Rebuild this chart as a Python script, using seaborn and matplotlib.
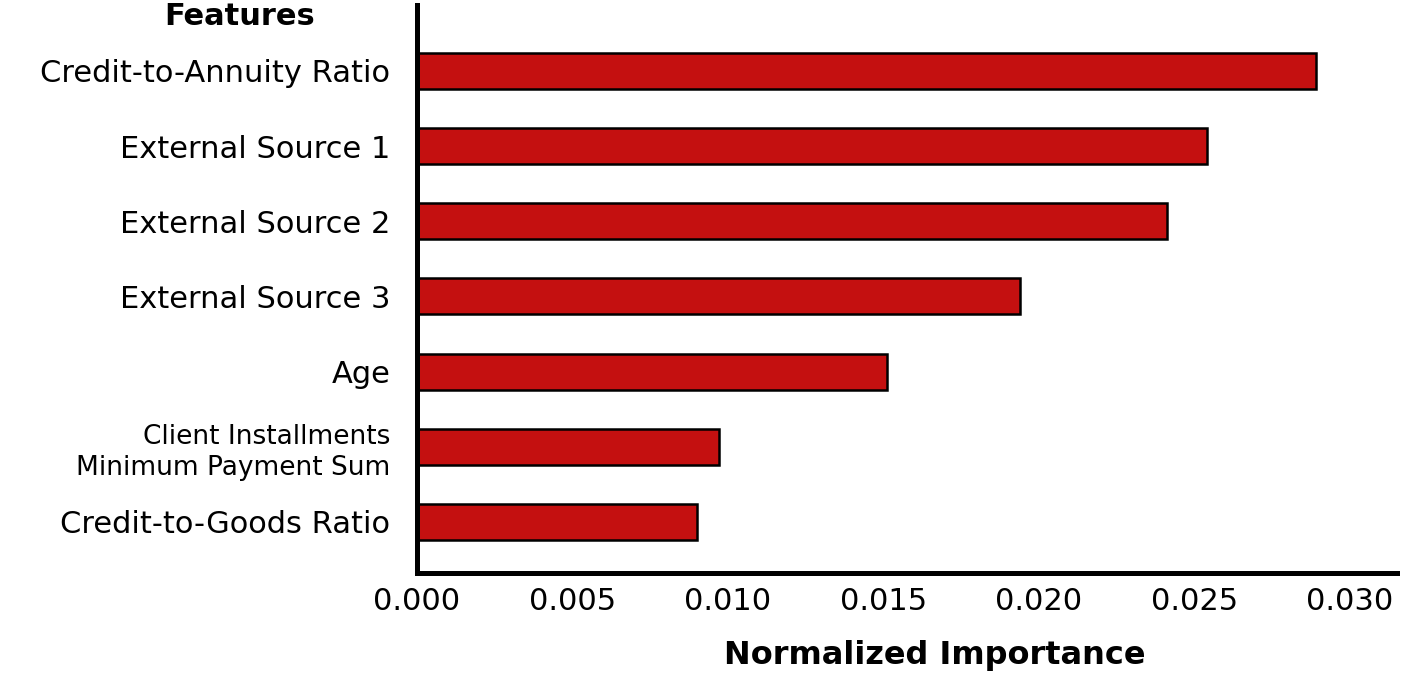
import pandas as pd
import matplotlib
matplotlib.use('Agg')
import matplotlib.pyplot as plt
import seaborn as sns

# feature importance values
features = [
    'Credit-to-Annuity Ratio',
    'External Source 1',
    'External Source 2',
    'External Source 3',
    'Age',
    'Client Installments\nMinimum Payment Sum',
    'Credit-to-Goods Ratio',
]
importance = [0.0289, 0.0254, 0.0241, 0.0194, 0.0151, 0.0097, 0.0090]
xticks = [0.000, 0.005, 0.010, 0.015, 0.020, 0.025, 0.030]

df = pd.DataFrame({'Feature': features, 'Importance': importance})

sns.set_style('white')
plt.rcParams['font.family'] = ['DejaVu Sans']
plt.rcParams['text.color'] = 'black'
plt.rcParams['xtick.color'] = 'black'
plt.rcParams['ytick.color'] = 'black'
plt.rcParams['axes.labelcolor'] = 'black'

fig = plt.figure(figsize=(14.08, 6.79), dpi=100)
ax = fig.add_axes([0.296, 0.156, 0.696, 0.837])

sns.barplot(data=df, x='Importance', y='Feature', orient='h',
            color='#C41010', edgecolor='black', linewidth=1.8,
            width=0.48, saturation=1, ax=ax)

ax.set_xlim(0, 0.0315)
ax.set_ylim(6.68, -0.88)
ax.set_xticks(xticks)
ax.set_xticklabels([f'{t:.3f}' for t in xticks], fontsize=22)
ax.tick_params(axis='x', length=0, pad=10)
ax.tick_params(axis='y', length=0, pad=19, labelsize=22)
for lab in ax.get_yticklabels():
    if '\n' in lab.get_text():
        lab.set_fontsize(19)
        lab.set_linespacing(1.25)

for side in ['top', 'right']:
    ax.spines[side].set_visible(False)
for side in ['left', 'bottom']:
    ax.spines[side].set_linewidth(3.6)
    ax.spines[side].set_color('black')

ax.set_xlabel('Normalized Importance', fontsize=23, fontweight='bold')
ax.xaxis.set_label_coords(0.529, -0.118)
ax.set_ylabel('Features', fontsize=22, fontweight='bold', rotation=0,
              va='center', ha='center')
ax.yaxis.set_label_coords(-0.181, 0.979)

fig.savefig('out.png', dpi=100)
